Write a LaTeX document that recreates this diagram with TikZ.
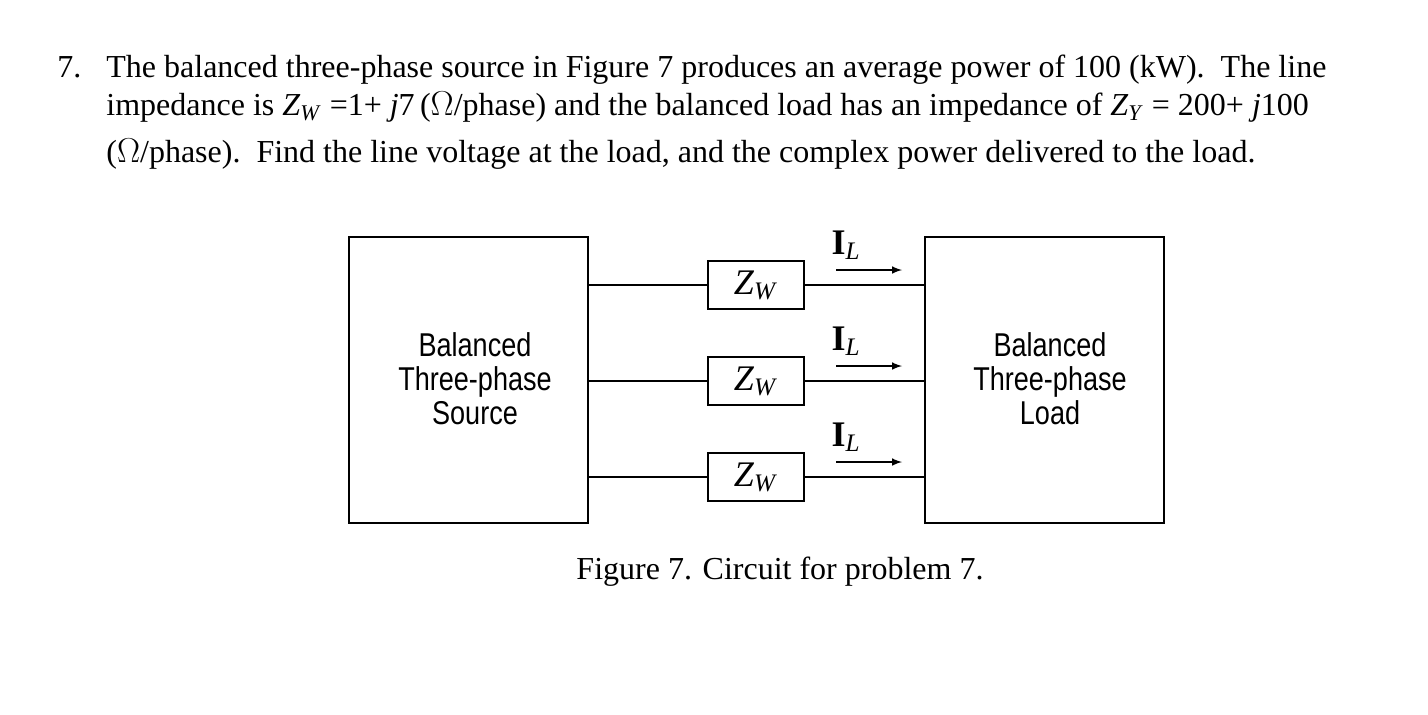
\documentclass[tikz,border=0pt]{standalone}
\usepackage{fontspec}
\setmainfont{Liberation Serif}
\newfontfamily\boxfont{Liberation Sans}[FakeStretch=0.82]
\newcommand{\iv}[1]{\textit{#1}}
\begin{document}
\begin{tikzpicture}[x=0.5pt,y=-0.5pt,
  blk/.style={draw,line width=0.7pt},
  zw/.style={draw,line width=0.7pt,minimum width=48pt,minimum height=24pt,inner sep=0pt,font=\fontsize{18}{18}\selectfont},
  wire/.style={line width=0.7pt},
  arr/.style={line width=0.7pt,-latex},
  txt/.style={anchor=base west,inner sep=0pt,font=\fontsize{16}{19}\selectfont},
  lbl/.style={font=\fontsize{16.5}{17}\selectfont\boxfont,align=center,inner sep=0pt}]
\useasboundingbox (0,0) rectangle (1428,714);
\node[txt] (n7) at (57,77) {7.};
\node[txt] (l1) at (106,77) {The balanced three-phase source in Figure 7 produces an average power of 100 (kW).\ \ The line};
\node[txt] (l2) at (106,115) {impedance is \iv{Z}\textsubscript{\iv{W}} =1+ \iv{j}7\,($\Omega$/phase) and the balanced load has an impedance of \iv{Z}\textsubscript{\iv{Y}} = 200+ \iv{j}100};
\node[txt] (l3) at (106,162) {($\Omega$/phase).\ \ Find the line voltage at the load, and the complex power delivered to the load.};
\draw[blk] (349,237) rectangle (588,523);
\draw[blk] (925,237) rectangle (1164,523);
\node[lbl] (src) at (475,379) {Balanced\\Three-phase\\Source};
\node[lbl] (lod) at (1050,379) {Balanced\\Three-phase\\Load};
\foreach \y/\n in {285/a,381/b,477/c}{
  \node[zw] (z\n) at (756,\y) {\iv{Z}\textsubscript{\iv{W}}};
  \coordinate (s\n) at (588,\y);
  \coordinate (e\n) at (925,\y);
  \draw[wire] (s\n) -- (z\n.west);
  \draw[wire] (z\n.east) -- (e\n);
  \coordinate (p\n) at (836,\y-15);
  \coordinate (q\n) at (902,\y-15);
  \draw[arr] (p\n) -- (q\n);
  \node[font=\fontsize{18}{18}\selectfont] (i\n) at (846,\y-40) {\textbf{I}\textsubscript{\iv{L}}};
}
\node[font=\fontsize{16}{19}\selectfont] (cap) at (780,572) {Figure 7. Circuit for problem 7.};
\end{tikzpicture}
\end{document}
